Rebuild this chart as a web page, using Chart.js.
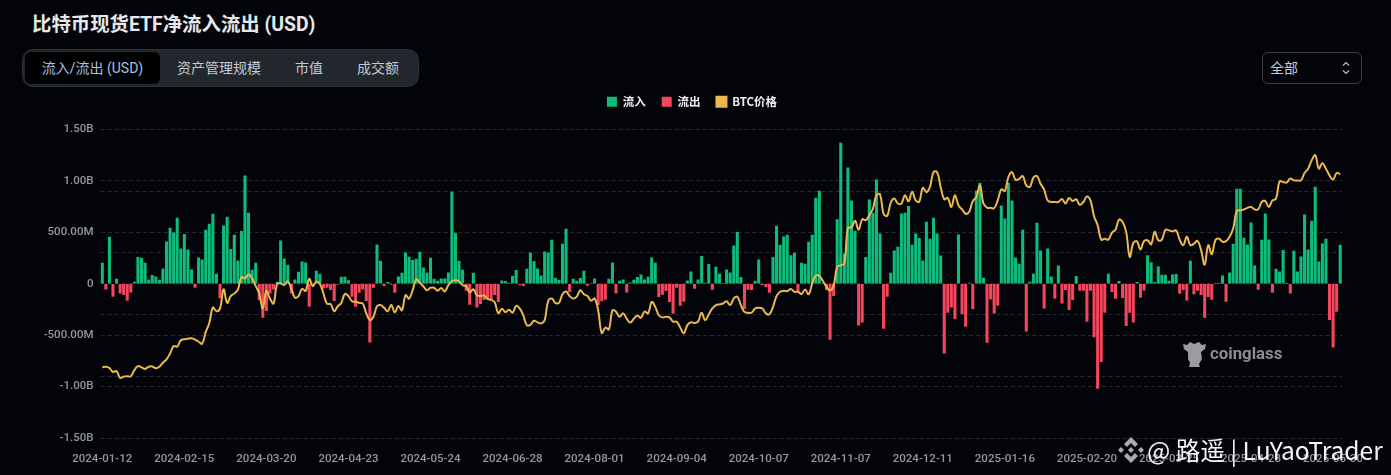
<!DOCTYPE html>
<html lang="zh">
<head>
<meta charset="utf-8">
<title>比特币现货ETF净流入流出 (USD)</title>
<script src="https://cdn.jsdelivr.net/npm/chart.js@4"></script>
<style>
    html, body { margin: 0; padding: 0; background: #02040a; width: 1391px; height: 475px; overflow: hidden; }
    body { position: relative; font-family: Roboto, "Noto Sans CJK SC", sans-serif; }
    .title { position: absolute; left: 32px; top: 12px; font-size: 19.4px; line-height: 26px; font-weight: 700; color: #e6e8ea; white-space: nowrap; }
    .tabs { position: absolute; left: 22px; top: 49px; width: 395px; height: 36px; background: #22262d; border: 1px solid #2c3037; border-radius: 11px; }
    .tabs span { position: absolute; top: 0; line-height: 36px; font-size: 14px; color: #c4cad2; white-space: nowrap; }
    .tabs .active { left: 2px; top: 2px; width: 135px; height: 32px; line-height: 32px; background: #000; border-radius: 6px; text-align: center; color: #a9c1e6; }
    .select { position: absolute; left: 1262px; top: 52px; width: 98px; height: 30px; border: 1px solid #3a3d42; border-radius: 6px; color: #c9cccf; font-size: 14px; line-height: 30px; }
    .select b { position: absolute; left: 7px; font-weight: 400; }
    .select svg { position: absolute; left: 78px; top: 7px; }
    #wrap { position: absolute; left: 22px; top: 80px; width: 1340px; height: 395px; }
    .cg { position: absolute; left: 1210px; top: 341px; font-size: 16.8px; line-height: 24px; font-weight: 700; color: #8b8d91; }
    .cow { position: absolute; left: 1182px; top: 339px; }
    .bn { position: absolute; left: 1117px; top: 436px; }
    .author { position: absolute; left: 1147px; top: 432px; font-family: "Noto Sans CJK SC", "Noto Sans", sans-serif; font-size: 24.6px; line-height: 34px; color: #f4f4f4; white-space: nowrap; }
</style>
</head>
<body>
<div class="title">比特币现货ETF净流入流出 (USD)</div>
<div class="tabs">
    <span class="active">流入/流出 (USD)</span>
    <span style="left:154px">资产管理规模</span>
    <span style="left:272px">市值</span>
    <span style="left:334px">成交额</span>
</div>
<div class="select"><b>全部</b>
    <svg width="10" height="16" fill="none" stroke="#b9bcc0" stroke-width="1.2"><path d="M2 5.5 5 2.5 8 5.5M2 10.5 5 13.5 8 10.5"/></svg>
</div>
<div id="wrap"><canvas id="flows"></canvas></div>
<svg class="cow" width="25" height="30" fill="#9a9c9f"><path d="M1 5 5 6 8 3 12 5 17 3 20 6 24 5 23 10 19 13 20 20 17 25 18 28 7 28 8 24 6 20 6 13 2 10Z"/></svg>
<div class="cg">coinglass</div>
<svg class="bn" width="28" height="28" fill="#a9abae"><path d="M14 1 21 8 18 11 14 7 10 11 7 8ZM4 11 7 14 4 17 1 14ZM24 11 27 14 24 17 21 14ZM14 11 17 14 14 17 11 14ZM7 20 10 17 14 21 18 17 21 20 14 27Z"/></svg>
<div class="author">@ 路遥 | LuYaoTrader</div>

<script>
// tick labels, one every 23 trading days
const tickLabels = ["2024-01-12", "2024-02-15", "2024-03-20", "2024-04-23", "2024-05-24", "2024-06-28",
    "2024-08-01", "2024-09-04", "2024-10-07", "2024-11-07", "2024-12-11", "2025-01-16",
    "2025-02-20", "2025-03-25", "2025-04-28", "2025-05-30"];

// net flow per trading day, USD millions
const netFlow = [
    200, -52, 454, -123, 45, -91, -107, -162, -81, 16, 256, 249, 200, 39, 81, 68, 36, 146, 408, 541,
    496, 638, 340, 480, 330, 136, -36, 253, 233, 522, 580, 677, 94, -139, 564, 648, 334, 473, 224, 509,
    1050, 687, 133, 200, -155, -327, -262, -91, -52, 13, 418, 243, 181, -91, 39, 113, 214, 204, -220, 0,
    123, 94, -42, -36, -58, -165, -6, 65, 65, 32, -123, -220, -84, -52, -165, -567, -36, 379, 220, -19,
    13, -6, -84, 68, 104, 301, 259, 227, 240, 308, 156, 107, 250, 45, 26, 49, 49, 107, 891, 492,
    220, 133, -65, -201, 104, -227, -194, -155, -139, -146, -107, -175, 29, 23, 6, 75, 130, -10, -19, 143,
    298, 217, 146, 78, 311, 301, 424, 55, 36, 386, 531, -78, 45, 26, 52, 123, -16, 0, 49, -204,
    -168, -152, 45, 204, -91, 26, 39, -81, 10, 36, 62, 87, 39, 65, 253, 201, -126, -104, -68, -175,
    -288, -36, -211, -172, 29, 117, -45, 39, 266, 6, 188, -55, 162, 94, 3, 136, 107, 369, 499, 62,
    -243, -55, -58, 26, 233, -10, -29, -84, 256, 560, 376, 457, 473, 275, 298, -68, 201, 191, 405, 473,
    833, 901, 0, -58, -541, -117, 625, 1367, 292, 1128, 807, 512, -402, -373, 256, 816, 687, 1011, 486, -434,
    -123, 104, 321, 356, 680, 687, 752, 376, 486, 441, 224, 599, 434, 638, 486, 272, -674, -279, -227, -340,
    476, -292, -415, 6, -243, 904, 978, 55, -570, -149, -285, -211, 758, 632, 978, 807, 253, 191, 522, -460,
    16, 94, 590, 321, -237, 340, 68, -143, 175, -188, -58, -253, -156, 71, -65, -65, -366, -65, -518, -1017,
    -758, -279, 94, -78, -143, 23, -136, -408, -279, -373, 13, -133, -62, 275, 207, 13, 165, 84, 84, 26,
    87, 91, -94, -58, -159, 220, -100, -65, -107, -327, -126, -152, 0, 3, 78, -172, 107, 386, 920, 920,
    444, 379, 593, 175, -55, 424, 680, 428, -84, 143, 117, 324, 3, -91, 318, 117, 262, 671, 330, 609,
    940, 214, 389, 434, -350, -616, -269, 376
];

// BTC close per trading day, USD thousands
const btcPrice = [
    42.9, 43.1, 42.7, 41.4, 41.7, 39.5, 39.9, 40.0, 40.0, 42.0, 43.3, 42.9, 42.4, 43.1, 43.2, 42.6, 43.1, 44.4, 45.5, 47.4,
    49.8, 49.6, 51.7, 52.0, 52.2, 52.3, 51.9, 51.2, 50.6, 54.4, 57.3, 62.3, 61.1, 62.0, 68.2, 63.8, 66.0, 66.8, 68.1, 72.2,
    71.7, 73.1, 71.7, 69.3, 66.8, 62.0, 67.7, 65.2, 63.6, 69.9, 70.1, 69.6, 70.8, 68.4, 65.5, 66.0, 68.4, 67.7, 71.6, 69.2,
    70.6, 69.9, 66.8, 63.5, 63.4, 61.1, 62.7, 63.8, 66.7, 66.0, 64.3, 64.2, 63.8, 63.6, 60.4, 58.2, 59.3, 62.7, 63.1, 62.2,
    61.1, 63.1, 60.7, 62.8, 61.4, 66.3, 65.2, 67.9, 71.4, 70.3, 69.2, 67.9, 68.7, 68.7, 67.7, 68.6, 67.5, 69.5, 70.8, 71.1,
    70.8, 69.5, 69.2, 67.2, 68.2, 66.3, 66.0, 66.2, 65.1, 64.8, 64.0, 60.4, 61.9, 60.8, 61.6, 60.6, 62.8, 62.0, 59.8, 56.6,
    56.7, 58.0, 57.5, 57.1, 58.2, 64.5, 65.2, 63.8, 63.8, 66.6, 67.5, 66.0, 65.2, 65.8, 67.9, 66.6, 66.0, 64.5, 65.2, 61.4,
    54.0, 55.8, 55.2, 61.4, 60.9, 59.3, 60.4, 58.7, 57.4, 58.7, 59.7, 59.0, 61.0, 60.4, 64.1, 62.5, 59.8, 59.1, 59.3, 59.1,
    57.7, 57.7, 55.8, 53.9, 56.6, 57.5, 57.3, 57.7, 60.6, 58.2, 60.1, 62.0, 63.1, 63.3, 63.6, 64.3, 63.1, 65.2, 65.8, 63.1,
    60.9, 60.6, 60.6, 62.0, 62.2, 62.0, 60.4, 60.1, 62.5, 66.0, 67.4, 67.7, 67.6, 68.3, 67.4, 67.4, 66.7, 68.1, 66.6, 70.1,
    72.7, 72.5, 70.9, 69.0, 67.8, 69.5, 75.5, 76.0, 76.5, 88.2, 88.2, 90.4, 87.5, 90.9, 90.6, 92.2, 94.3, 98.7, 99.0, 92.7,
    92.0, 96.2, 97.6, 96.0, 96.0, 98.7, 96.7, 99.8, 97.0, 96.6, 101.1, 99.7, 101.4, 106.2, 106.2, 101.4, 97.4, 97.8, 94.9, 98.7,
    95.4, 94.1, 92.7, 93.3, 96.8, 98.1, 101.9, 96.0, 94.7, 94.6, 94.5, 97.0, 100.6, 100.1, 104.6, 106.2, 103.7, 104.0, 104.9, 101.9,
    101.4, 104.4, 104.9, 102.4, 100.5, 97.0, 96.5, 96.5, 96.5, 97.5, 96.0, 97.8, 96.8, 97.4, 95.6, 96.5, 98.3, 97.0, 91.9, 89.0,
    84.3, 84.6, 84.3, 86.5, 87.5, 90.8, 90.0, 86.8, 78.7, 83.2, 83.8, 81.1, 83.8, 84.1, 82.8, 86.8, 84.1, 84.3, 87.5, 87.3,
    87.0, 87.3, 84.3, 82.5, 85.2, 82.5, 83.0, 83.9, 80.9, 76.2, 82.5, 79.6, 84.1, 84.6, 83.6, 83.8, 85.2, 87.9, 93.6, 93.8,
    94.1, 94.6, 94.9, 94.1, 94.1, 96.5, 96.8, 94.9, 97.0, 97.6, 103.2, 103.0, 102.8, 104.1, 103.5, 103.5, 103.5, 105.9, 107.3, 110.0,
    111.7, 107.3, 109.1, 107.3, 105.1, 103.8, 105.9, 105.5
];

const categories = netFlow.map((v, i) => tickLabels[i / 23] || "");
const inflow = netFlow.map(v => (v >= 0 ? v : null));
const outflow = netFlow.map(v => (v < 0 ? v : null));

function axisLabel(v) {
    if (v === 0) return "0";
    if (Math.abs(v) >= 1000) return (v / 1000).toFixed(2) + "B";
    return v.toFixed(2) + "M";
}

const labelFont = { family: 'Roboto, "Noto Sans CJK SC", sans-serif', size: 11.5, weight: "500" };

// keeps some room between the legend and the plot
const legendGap = {
    id: "legendGap",
    beforeInit(chart) {
        const fit = chart.legend.fit;
        chart.legend.fit = function () {
            fit.call(this);
            this.height += 12;
        };
    }
};

new Chart(document.getElementById("flows").getContext("2d"), {
    type: "bar",
    plugins: [legendGap],
    data: {
        labels: categories,
        datasets: [
            { label: "流入", data: inflow, backgroundColor: "#0ebd7c", barThickness: 2.4, stack: "flow", yAxisID: "y", order: 2 },
            { label: "流出", data: outflow, backgroundColor: "#f6465d", barThickness: 2.4, stack: "flow", yAxisID: "y", order: 2 },
            {
                type: "line",
                label: "BTC价格",
                data: btcPrice,
                borderColor: "#ecb94c",
                backgroundColor: "#ecb94c",
                borderWidth: 2,
                pointRadius: 0,
                tension: 0.4,
                yAxisID: "y1",
                order: 1
            }
        ]
    },
    options: {
        responsive: true,
        maintainAspectRatio: false,
        animation: false,
        plugins: {
            tooltip: { enabled: false },
            legend: {
                position: "top",
                labels: {
                    boxWidth: 10,
                    boxHeight: 10,
                    padding: 16,
                    color: "#f0f0f0",
                    font: { family: '"Noto Sans CJK SC", Roboto, sans-serif', size: 11.5, weight: "700" },
                    sort: (a, b) => a.datasetIndex - b.datasetIndex
                }
            }
        },
        scales: {
            x: {
                stacked: true,
                grid: { display: false },
                border: { display: false },
                afterBuildTicks: scale => {
                    scale.ticks = scale.ticks.filter(t => categories[t.value] !== "");
                },
                afterFit: scale => {
                    scale.height = 37;
                    scale.paddingRight = 0;
                    scale.paddingLeft = 0;
                },
                ticks: { autoSkip: false, maxRotation: 0, minRotation: 0, padding: 6, color: "#94979b", font: labelFont }
            },
            y: {
                position: "left",
                stacked: true,
                min: -1500,
                max: 1500,
                afterFit: scale => { scale.width = 78.5; },
                grid: { color: "#25282c", drawTicks: false },
                border: { display: false, dash: [4, 3] },
                ticks: { stepSize: 500, padding: 7, color: "#94979b", font: labelFont, callback: axisLabel }
            },
            y1: {
                position: "right",
                min: 20,
                max: 120,
                afterFit: scale => { scale.width = 20; },
                grid: { color: "#25282c", drawTicks: false },
                border: { display: false, dash: [4, 3] },
                ticks: { stepSize: 20, display: false }
            }
        }
    }
});
</script>
</body>
</html>
